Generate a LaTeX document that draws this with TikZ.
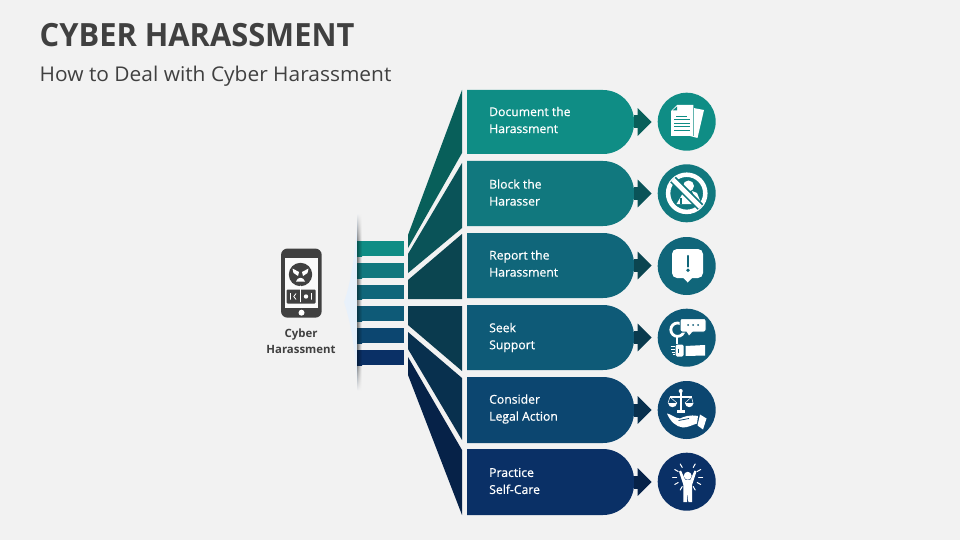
\documentclass[tikz,border=0pt]{standalone}
\usepackage{fontspec}
\setmainfont{Open Sans}
\newfontfamily\semib[FakeBold=0.6]{Open Sans}
\usetikzlibrary{arrows.meta,calc,fadings}
\definecolor{bg}{HTML}{F2F2F2}
\definecolor{ink}{HTML}{404040}
\definecolor{lens}{HTML}{E6F1FD}
\definecolor{shadowgrey}{HTML}{777777}
\definecolor{ra}{HTML}{0F8D85}\definecolor{rb}{HTML}{11787E}\definecolor{rc}{HTML}{10667A}
\definecolor{rd}{HTML}{0E5A77}\definecolor{re}{HTML}{0C4670}\definecolor{rf}{HTML}{0A3066}
\definecolor{wa}{HTML}{085F5A}\definecolor{wb}{HTML}{0A5358}\definecolor{wc}{HTML}{0B4550}
\definecolor{wd}{HTML}{0A3A4E}\definecolor{we}{HTML}{08304E}\definecolor{wf}{HTML}{062248}
\tikzfading[name=fadetop,top color=transparent!100,bottom color=transparent!0]
\tikzfading[name=fadebottom,top color=transparent!0,bottom color=transparent!100]
\tikzset{
  panelbox/.style={minimum width=167pt,minimum height=#1,inner sep=0pt,outer sep=0pt},
  paneltext/.style={text=white,anchor=west,align=left,inner sep=0pt,font=\semib\fontsize{12.2}{17}\selectfont},
  iconcircle/.style={circle,minimum size=58pt,inner sep=0pt,outer sep=0pt},
  pointer/.style={line width=13pt,-{Triangle[length=14pt,width=27pt]},shorten >=6pt},
  barbox/.style={minimum width=47pt,minimum height=15pt,inner sep=0pt,outer sep=0pt},
  iconline/.style={white,line cap=round,line join=round}
}
% id, top, bottom, panel colour, arrow colour, circle centre y, text centre y, text
\newcommand{\rowitem}[8]{%
  \pgfmathsetmacro{\hh}{#3-#2}\pgfmathsetmacro{\cc}{(#2+#3)/2}
  \fill[#4,rounded corners=0pt] (467,#2) [rounded corners=31pt] -- (634,#2) -- (634,#3) [sharp corners] -- (467,#3) -- cycle;
  \node[panelbox=\hh pt] (p#1) at (550.5,\cc) {};
  \node[iconcircle,fill=#4] (c#1) at (686.7,#6) {};
  \draw[pointer,#5] (p#1.east) -- (p#1.east -| c#1.west);
  \node[paneltext] (t#1) at (489,#7) {#8};
}
\begin{document}
\begin{tikzpicture}[x=1pt,y=-1pt]
\useasboundingbox (0,0) rectangle (960,540);
\fill[bg] (0,0) rectangle (960,540);
\node[anchor=base west,inner sep=0pt,text=ink,xscale=.963,font=\fontsize{32}{36}\bfseries\selectfont] (title) at (39.5,46.7) {CYBER HARASSMENT};
\node[anchor=base west,inner sep=0pt,text=ink,xscale=1.03,font=\fontsize{20.3}{24}\selectfont] (subtitle) at (39.5,81.3) {How to Deal with Cyber Harassment};
% wedges
\fill[wa] (462,90) -- (462,153) -- (408,248) -- (408,235) -- cycle;
\fill[wb] (462,163) -- (462,228) -- (408,273) -- (408,254) -- cycle;
\fill[wc] (462,234) -- (462,299) -- (408,299) -- (408,280) -- cycle;
\fill[wd] (408,306) -- (462,306) -- (462,371) -- (408,325) -- cycle;
\fill[we] (408,332) -- (462,378) -- (462,440) -- (408,349) -- cycle;
\fill[wf] (408,357) -- (462,450) -- (462,515) -- (408,375) -- cycle;
% rows
\rowitem{1}{90}{154}{ra}{wa}{121.7}{120}{Document the\\Harassment}
\rowitem{2}{161}{226}{rb}{wb}{193.3}{192.5}{Block the\\Harasser}
\rowitem{3}{233}{298}{rc}{wc}{266}{263.5}{Report the\\Harassment}
\rowitem{4}{305}{370}{rd}{wd}{337.7}{337.5}{Seek\\Support}
\rowitem{5}{377}{443}{re}{we}{410}{409}{Consider\\Legal Action}
\rowitem{6}{449}{515}{rf}{wf}{481.7}{481}{Practice\\Self-Care}
% lens and shadow
\shade[left color=lens!75!bg,right color=lens] (358,214) .. controls (355,260) and (350,285) .. (344,302) .. controls (350,320) and (355,345) .. (358,390) -- cycle;
\shade[left color=shadowgrey,right color=bg,path fading=fadetop] (357,214) rectangle (361.5,245);
\shade[left color=shadowgrey,right color=bg] (357,245) rectangle (361.5,360);
\shade[left color=shadowgrey,right color=bg,path fading=fadebottom] (357,360) rectangle (361.5,390);
% bars
\foreach \n/\y/\h/\col in {a/248.5/15/ra,b/270.5/15/rb,c/292/14/rc,d/313.5/15/rd,e/335.5/15/re,f/357.5/15/rf}{
  \node[barbox,minimum height=\h pt,fill=\col] (bar\n) at (380.5,\y) {};
  \shade[left color=\col!60!black,right color=\col] (bar\n.north west) rectangle ([xshift=5pt]bar\n.south west);
}
% phone
\fill[ink,rounded corners=6.5pt] (281,248.5) rectangle (321.7,317.7);
\fill[white!60!bg] (285,258) rectangle (318,308);
\fill[white] (301.5,312.7) circle (3);
\fill[ink] (300.5,274.5) circle (11.7);
\fill[white] (292.5,268.5) -- (299,272) -- (298,276) -- (293.5,273) -- cycle;
\fill[white] (308.5,268.5) -- (302,272) -- (303,276) -- (307.5,273) -- cycle;
\fill[white] (296,281.5) .. controls (297.5,276.5) and (303.5,276.5) .. (305,281.5) -- cycle;
\fill[ink,rounded corners=1pt] (286.5,289.5) rectangle (315.7,303.5);
\draw[white,line width=.8pt] (290.5,293) -- (290.5,299.5) (311.5,293) -- (311.5,299.5) (296,293.5) -- (293.8,296.5) -- (296,299.5) (300.5,285.5) -- (300.5,302);
\fill[white] (306,296.5) circle (2.2);
\node[inner sep=0pt,text=ink,align=center,font=\bfseries\fontsize{11.4}{16}\selectfont] (phonelabel) at (301,341) {Cyber\\Harassment};
% icon 1: documents
\fill[white] (693.5,108) -- (704,110) -- (697.5,138) -- (690,136) -- cycle;
\draw[ra,line width=.8pt] (693.7,108) -- (693.7,136.5);
\fill[white] (677,105) -- (693.3,105) -- (693.3,136) -- (671,136) -- (671,111) -- cycle;
\fill[ra] (672.5,110.5) -- (677,110.5) -- (677,106.5) -- cycle;
\draw[ra,line width=1pt] (676,116.5) -- (687,116.5) (674,120) -- (690,120) (674,123.5) -- (690,123.5) (674,127) -- (690,127) (674,130.5) -- (690,130.5);
% icon 2: blocked person
\fill[white] (688.5,186) circle (5.5);
\fill[white] (676.5,204) -- (683,193) -- (689,193) -- (696,204) -- cycle;
\fill[white] (692,191) -- (697,193) -- (701,203) -- (697,204) -- cycle;
\draw[rb,line width=1.2pt] (681,204) -- (681,197.5);
\draw[white,line width=4.5pt] (686.7,193.3) circle (18.6);
\draw[rb,line width=8pt] (673,179.6) -- (700.4,207);
\draw[white,line width=4.6pt] (673,179.6) -- (700.4,207);
% icon 3: alert
\fill[white,rounded corners=5pt] (672,249) rectangle (703,278);
\fill[white] (682.5,277) -- (687.7,282.5) -- (693,277) -- cycle;
\draw[rc,line width=2.2pt,line cap=round] (688,256) -- (688,266.5);
\fill[rc] (688,270.3) circle (1.9);
% icon 4: support
\draw[white,line width=2.8pt] (677.5,329.7) circle (6.7);
\draw[white,line width=2.2pt] (677,337) -- (677,344);
\fill[white,rounded corners=2pt,draw=rd,line width=1pt] (680,318.5) rectangle (706,332);
\fill[white] (686,330.5) -- (689,335.5) -- (693,331) -- cycle;
\foreach \xx in {688,693,698}{\fill[rd] (\xx,325) circle (1);}
\fill[white] (685.5,346) -- (705,345) -- (705,355.5) -- (685.5,356) -- cycle;
\fill[white,rounded corners=1.5pt] (675.5,344.5) rectangle (683.5,356.5);
\draw[white,line width=1pt] (670.5,346) -- (675,346) (671,349) -- (675,349) (671.5,352) -- (675,352) (672.5,354.8) -- (675,354.8);
\draw[rd,line width=.7pt] (678,348.5) -- (678,353);
% icon 5: scales and hand
\fill[white] (680.7,391) circle (2);
\fill[white] (679.7,391) rectangle (681.7,411);
\fill[white] (676.5,410.3) rectangle (685,412.5);
\draw[white,line width=1.3pt] (670,397) -- (691.5,397);
\draw[white,line width=.5pt] (670,397) -- (668,403) (670,397) -- (677,403) (691.5,397) -- (685,403) (691.5,397) -- (693,403);
\fill[white] (668,403) .. controls (668.5,408.5) and (676.5,408.5) .. (677,403) -- cycle;
\fill[white] (685,403) .. controls (685.5,408.5) and (693,408.5) .. (693.5,403) -- cycle;
\fill[white] (667,413.5) .. controls (671,414) and (674,418) .. (680,418.5) .. controls (684,416.5) and (690,414.5) .. (698,416) -- (697,423.5) .. controls (692,425) and (688,427.5) .. (683,427.5) .. controls (676,427) and (670,421) .. (667,413.5) -- cycle;
\fill[white] (700,414.5) -- (706.5,418.5) -- (703,429.5) -- (697.5,425.5) -- cycle;
\draw[re,line width=.8pt] (678.5,420.5) -- (689,418.5);
% icon 6: self-care
\fill[white] (687.7,475.7) circle (3.9);
\fill[white] (679,471.5) -- (681,470.5) -- (685,479.5) -- (690.5,479.5) -- (694.5,470.5) -- (696.5,471.5) -- (692,485) -- (692,502) -- (688.3,502) -- (687.7,491) -- (687.1,502) -- (683.4,502) -- (683.4,485) -- cycle;
\foreach \a in {90,60,120,30,150,0,180,-30,210,-60,240}{
  \draw[iconline,line width=1pt] ($(687.7,477)+(\a:11)$) -- ($(687.7,477)+(\a:15)$);
}
\end{tikzpicture}
\end{document}
